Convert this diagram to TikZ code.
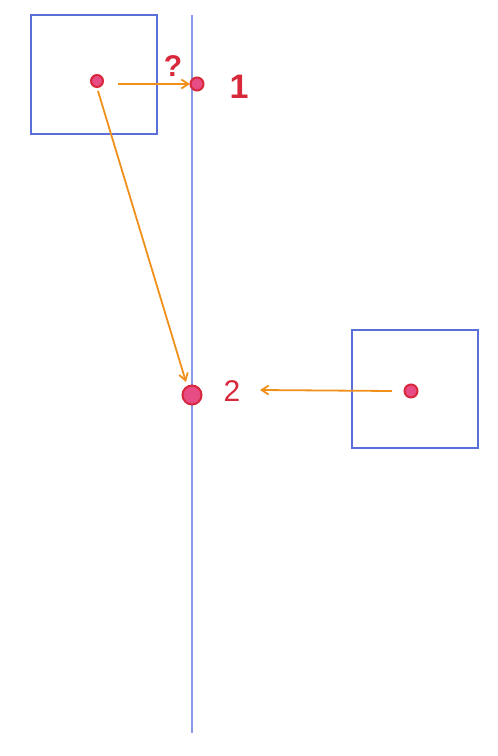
\documentclass[tikz,border=0pt]{standalone}
\usepackage{fontspec}
\setmainfont{Liberation Sans}
\usetikzlibrary{arrows.meta}
\definecolor{boxblue}{HTML}{5B6FD8}
\definecolor{lineblue}{HTML}{8A9AE8}
\definecolor{arrorange}{HTML}{F0901A}
\definecolor{dotred}{HTML}{D8283C}
\definecolor{dotpink}{HTML}{E84C84}
\begin{document}
\begin{tikzpicture}[x=1pt,y=-1pt,
  boxst/.style={draw=boxblue,line width=1.5pt},
  dotst/.style={circle,draw=dotred,fill=dotpink,line width=2pt,inner sep=0pt},
  arr/.style={draw=arrorange,line width=1.8pt,-{Straight Barb[length=7pt,width=9pt]}},
  lbl/.style={text=dotred,font=\bfseries}]
\useasboundingbox (0,0) rectangle (498,756);
\draw[boxst] (31,15) rectangle (157,134);
\draw[boxst] (352,330) rectangle (478,448);
\coordinate (top) at (192,15);
\coordinate (bot) at (192,733);
\draw[draw=lineblue,line width=1.8pt] (top) -- (bot);
\node[dotst,minimum size=12pt] (d1) at (97,81) {};
\node[dotst,minimum size=13pt] (p1) at (197,84) {};
\node[dotst,minimum size=19pt] (p2) at (192,395) {};
\node[dotst,minimum size=13pt] (d2) at (411,391) {};
\node[lbl,font=\bfseries\fontsize{30}{30}\selectfont] (q) at (173,66) {?};
\node[lbl,font=\bfseries\fontsize{34}{34}\selectfont] (l1) at (239,87) {1};
\node[lbl,font=\fontsize{30}{30}\selectfont] (l2) at (232,391) {2};
\coordinate (a1s) at (118,84);
\coordinate (a1e) at (190,84);
\draw[arr] (a1s) -- (a1e);
\coordinate (a2s) at (98,91);
\coordinate (a2e) at (186,382);
\draw[arr] (a2s) -- (a2e);
\coordinate (a3s) at (392,391);
\coordinate (a3e) at (260,390);
\draw[arr] (a3s) -- (a3e);
\end{tikzpicture}
\end{document}
